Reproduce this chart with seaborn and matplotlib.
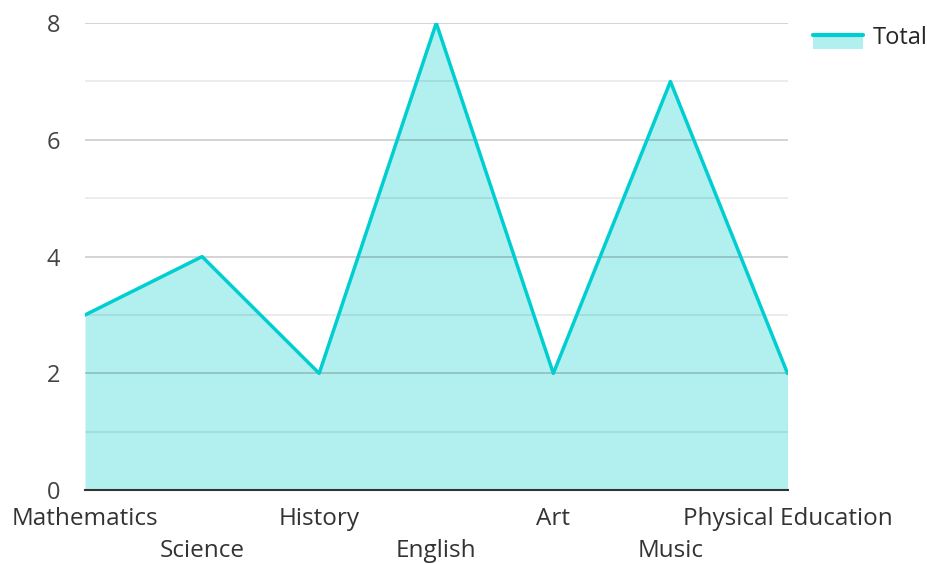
import pandas as pd
import matplotlib
matplotlib.use("Agg")
import matplotlib.pyplot as plt
import seaborn as sns
from matplotlib.patches import Rectangle
from matplotlib.lines import Line2D
from matplotlib.legend_handler import HandlerBase

subjects = ["Mathematics", "Science", "History", "English", "Art", "Music", "Physical Education"]
totals = [3, 4, 2, 8, 2, 7, 2]
y_ticks = [0, 2, 4, 6, 8]
minor_ticks = [1, 3, 5, 7]

df = pd.DataFrame({"subject": subjects, "total": totals})
df["x"] = range(len(df))

sns.set_style("white")
plt.rcParams["font.family"] = ["Open Sans", "DejaVu Sans"]

line_color = "#00CED1"
fill_color = "#B2EFEF"


class AreaHandler(HandlerBase):
    # filled box hanging under the line
    def create_artists(self, legend, orig, xd, yd, w, h, fontsize, trans):
        mid = yd + h / 2
        rect = Rectangle((xd, mid - 9.5), w, 9.5, facecolor=fill_color, edgecolor="none", transform=trans)
        line = Line2D([xd, xd + w], [mid, mid], color=line_color, linewidth=3, transform=trans)
        return [rect, line]


fig = plt.figure(figsize=(9.28, 5.64), dpi=100)
ax = fig.add_axes([0.0916, 0.131, 0.757, 0.828])

ax.fill_between(df["x"], df["total"], 0, color=fill_color, linewidth=0, zorder=1)
sns.lineplot(data=df, x="x", y="total", ax=ax, color=line_color, linewidth=2.5, zorder=3)

ax.set_xlim(0, len(df) - 1)
ax.set_ylim(0, 8)
ax.set_yticks(y_ticks)
ax.set_yticks(minor_ticks, minor=True)
ax.grid(axis="y", which="major", color="black", alpha=0.2, linewidth=1.2, zorder=2)
ax.grid(axis="y", which="minor", color="black", alpha=0.09, linewidth=1.2, zorder=2)
ax.set_axisbelow(False)

ax.set_xticks(df["x"])
ax.set_xticklabels(subjects, fontsize=17.5, color="#333333")
ax.tick_params(axis="x", length=0, pad=12)
# stagger: every other label drops to a second row
for i, tick in enumerate(ax.xaxis.get_major_ticks()):
    if i % 2 == 1:
        tick.set_pad(35)
ax.tick_params(axis="y", which="both", length=0, pad=18, labelsize=17, labelcolor="#444444")
ax.set_xlabel("")
ax.set_ylabel("")

for side in ["top", "right", "left"]:
    ax.spines[side].set_visible(False)
ax.spines["bottom"].set_color("#333333")
ax.spines["bottom"].set_linewidth(1.5)
ax.spines["bottom"].set_zorder(4)

fig.legend([object()], ["Total"], handler_map={object: AreaHandler()}, loc="upper left",
           bbox_to_anchor=(0.856, 0.988), frameon=False, fontsize=17,
           handlelength=2.1, handleheight=0.7, handletextpad=0.42, borderpad=0.3)

fig.savefig("out.png", dpi=100)
